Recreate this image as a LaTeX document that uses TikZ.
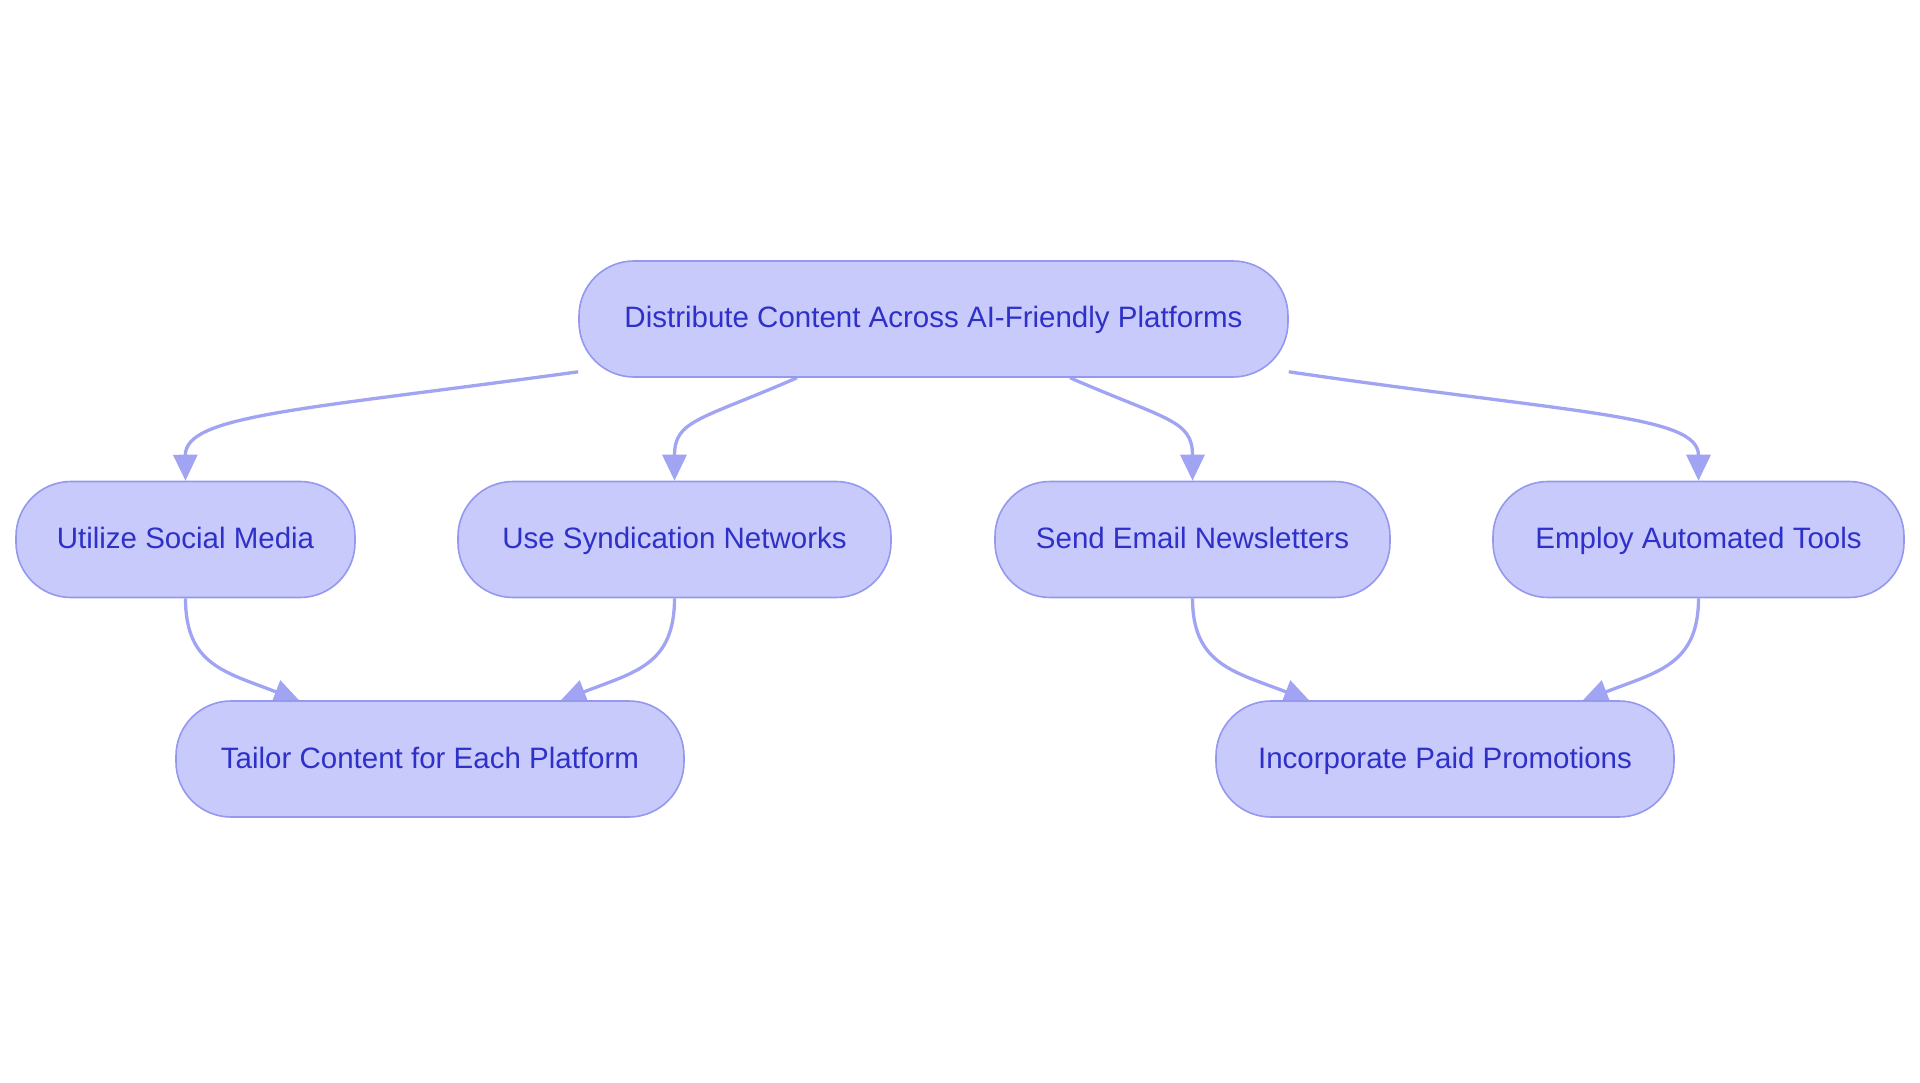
\documentclass[tikz,border=0pt]{standalone}
\usepackage{fontspec}
\setmainfont{Liberation Sans}
\usetikzlibrary{arrows.meta,backgrounds}
\definecolor{boxfill}{RGB}{200,202,252}
\definecolor{boxline}{RGB}{148,152,238}
\definecolor{edgecol}{RGB}{160,164,242}
\definecolor{txtcol}{RGB}{46,48,200}
\tikzset{
  box/.style={draw=boxline, fill=boxfill, line width=1.6pt, rounded corners=55pt,
    minimum height=116pt, inner sep=0pt, text=txtcol, text height=23pt, text depth=5pt,
    font=\fontsize{29.5pt}{34pt}\selectfont},
  link/.style={draw=edgecol, line width=3.3pt,
    -{Triangle[length=26pt,width=24pt]}}
}
\begin{document}
\begin{tikzpicture}[x=1pt,y=-1pt]
\useasboundingbox (0,0) rectangle (1920,1083);
\node[box, minimum width=709pt] (top) at (933.5,319) {Distribute Content Across AI-Friendly Platforms};
\node[box, minimum width=339pt] (soc) at (185.5,539.5) {Utilize Social Media};
\node[box, minimum width=433pt] (syn) at (674.5,539.5) {Use Syndication Networks};
\node[box, minimum width=395pt] (eml) at (1192.5,539.5) {Send Email Newsletters};
\node[box, minimum width=411pt] (aut) at (1698.5,539.5) {Employ Automated Tools};
\node[box, minimum width=508pt] (tlr) at (430,759) {Tailor Content for Each Platform};
\node[box, minimum width=458pt] (pay) at (1445,759) {Incorporate Paid Promotions};
\begin{scope}[on background layer]
\draw[link] ([yshift=6pt]top.south west) .. controls (300,410) and (185,415) .. (soc.north);
\draw[link] ([xshift=-136.5pt]top.south) .. controls (700,420) and (674.5,420) .. (syn.north);
\draw[link] ([xshift=136.5pt]top.south) .. controls (1167,420) and (1192.5,420) .. (eml.north);
\draw[link] ([yshift=6pt]top.south east) .. controls (1578,414) and (1698.5,415) .. (aut.north);
\draw[link] (soc.south) .. controls (185.5,665) and (225,672) .. ([xshift=-130pt,yshift=-1pt]tlr.north);
\draw[link] (syn.south) .. controls (674.5,665) and (635,672) .. ([xshift=130pt,yshift=-1pt]tlr.north);
\draw[link] (eml.south) .. controls (1192.5,665) and (1235,672) .. ([xshift=-135pt,yshift=-1pt]pay.north);
\draw[link] (aut.south) .. controls (1698.5,665) and (1657,672) .. ([xshift=137pt,yshift=-1pt]pay.north);
\end{scope}
\end{tikzpicture}
\end{document}
